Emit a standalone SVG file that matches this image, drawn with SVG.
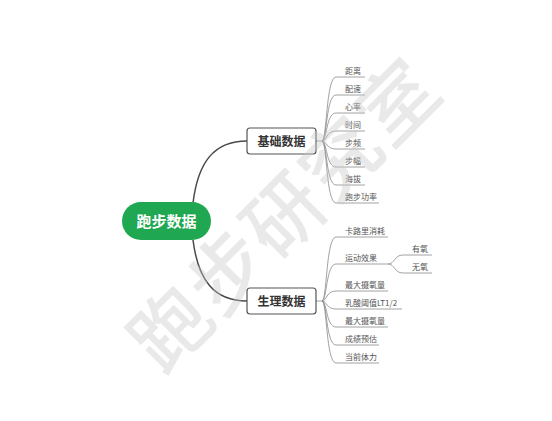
<svg xmlns="http://www.w3.org/2000/svg" width="552" height="421" viewBox="0 0 552 421">
<style>
text{font-family:"Noto Sans CJK SC","Noto Sans",sans-serif}
.main{fill:none;stroke:#4a4a4a;stroke-width:1.5}
.br{fill:none;stroke:#8a8a8a;stroke-width:0.8}
.box{fill:#fff;stroke:#555;stroke-width:1.2}
.bt{font-size:12px;font-weight:bold;fill:#333;text-anchor:middle}
.lf{font-size:8px;fill:#555}
.wm{font-size:78px;font-weight:500;fill:#c8c8c8;opacity:0.38;text-anchor:middle;letter-spacing:2px}
</style>
<rect width="552" height="421" fill="#fff"/>
<g id="connectors">
<path class="main" d="M193,203 C198,162 214,141 247,141"/>
<path class="main" d="M193,240 C198,280 214,301 247,301"/>
<path class="br" d="M316,141 H322"/>
<path class="br" d="M322,141 C327,141 326,77 336,77 H365"/>
<path class="br" d="M322,141 C327,141 326,95 336,95 H365"/>
<path class="br" d="M322,141 C327,141 326,113 336,113 H365"/>
<path class="br" d="M322,141 C327,141 326,131 336,131 H365"/>
<path class="br" d="M322,141 C327,141 326,149 336,149 H365"/>
<path class="br" d="M322,141 C327,141 326,167 336,167 H365"/>
<path class="br" d="M322,141 C327,141 326,185 336,185 H365"/>
<path class="br" d="M322,141 C327,141 326,203 336,203 H379"/>
<path class="br" d="M316,301 H322"/>
<path class="br" d="M322,301 C327,301 326,237 336,237 H388"/>
<path class="br" d="M322,301 C327,301 326,264 336,264 H388"/>
<path class="br" d="M322,301 C327,301 326,291 336,291 H388"/>
<path class="br" d="M322,301 C327,301 326,309 336,309 H402"/>
<path class="br" d="M322,301 C327,301 326,327 336,327 H388"/>
<path class="br" d="M322,301 C327,301 326,345 336,345 H379"/>
<path class="br" d="M322,301 C327,301 326,363 336,363 H379"/>
<path class="br" d="M388,264 C395,264 394,255 403,255 H432"/>
<path class="br" d="M388,264 C395,264 394,273 403,273 H432"/>
</g>
<g id="root">
<rect x="122" y="202" width="89" height="38" rx="19" fill="#1fa752"/>
<text x="166.5" y="226.5" font-size="15" font-weight="bold" fill="#fff" text-anchor="middle">跑步数据</text>
</g>
<g id="basic">
<rect class="box" x="247" y="128" width="69" height="26" rx="3"/>
<text class="bt" x="281.5" y="145.5">基础数据</text>
</g>
<g id="physio">
<rect class="box" x="247" y="288" width="69" height="26" rx="3"/>
<text class="bt" x="281.5" y="305.5">生理数据</text>
</g>
<g id="leaves-basic">
<text class="lf" x="345" y="74">距离</text>
<text class="lf" x="345" y="92">配速</text>
<text class="lf" x="345" y="110">心率</text>
<text class="lf" x="345" y="128">时间</text>
<text class="lf" x="345" y="146">步频</text>
<text class="lf" x="345" y="164">步幅</text>
<text class="lf" x="345" y="182">海拔</text>
<text class="lf" x="345" y="200">跑步功率</text>
</g>
<g id="leaves-physio">
<text class="lf" x="345" y="234">卡路里消耗</text>
<text class="lf" x="345" y="261">运动效果</text>
<text class="lf" x="412" y="252">有氧</text>
<text class="lf" x="412" y="270">无氧</text>
<text class="lf" x="345" y="288">最大摄氧量</text>
<text class="lf" x="345" y="306">乳酸阈值LT1/2</text>
<text class="lf" x="345" y="324">最大摄氧量</text>
<text class="lf" x="345" y="342">成绩预估</text>
<text class="lf" x="345" y="360">当前体力</text>
</g>
<g id="watermark">
<text class="wm" x="285" y="243" transform="rotate(-45 285 215)">跑步研究室</text>
</g>
</svg>
